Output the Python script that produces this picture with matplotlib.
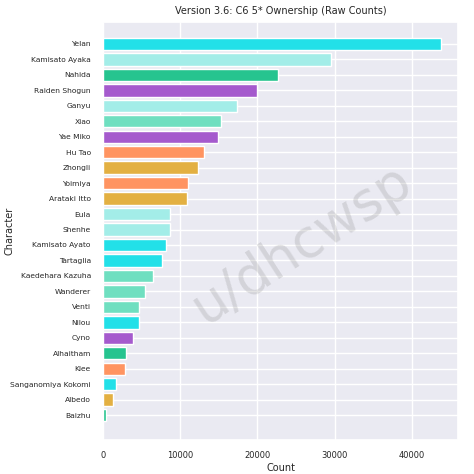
import matplotlib
matplotlib.use("Agg")
import matplotlib.pyplot as plt
import seaborn as sns

characters = ["Yelan", "Kamisato Ayaka", "Nahida", "Raiden Shogun", "Ganyu", "Xiao",
              "Yae Miko", "Hu Tao", "Zhongli", "Yoimiya", "Arataki Itto", "Eula",
              "Shenhe", "Kamisato Ayato", "Tartaglia", "Kaedehara Kazuha", "Wanderer",
              "Venti", "Nilou", "Cyno", "Alhaitham", "Klee", "Sanganomiya Kokomi",
              "Albedo", "Baizhu"]
counts = [43800, 29500, 22600, 20000, 17400, 15300, 14900, 13100, 12300, 11000,
          10900, 8600, 8600, 8100, 7600, 6500, 5400, 4600, 4600, 3900, 2900, 2800,
          1600, 1200, 400]
elements = ["hydro", "cryo", "dendro", "electro", "cryo", "anemo", "electro", "pyro",
            "geo", "pyro", "geo", "cryo", "cryo", "hydro", "hydro", "anemo", "anemo",
            "anemo", "hydro", "electro", "dendro", "pyro", "hydro", "geo", "dendro"]
palette = {"hydro": "#22e0e8", "cryo": "#a3ede8", "dendro": "#26c48f",
           "electro": "#a55acd", "anemo": "#6fdfc0", "pyro": "#ff9461", "geo": "#e3b042"}

sns.set_theme(style="darkgrid")
fig, ax = plt.subplots(figsize=(4.74, 4.74), dpi=100)
ax.barh(characters, counts, color=[palette[e] for e in elements])
ax.set_ylim(25.6, -1.4)
ax.set_xlim(0, 46000)
ax.set_title("Version 3.6: C6 5* Ownership (Raw Counts)", fontsize=7)
ax.set_xlabel("Count", fontsize=7, labelpad=2)
ax.set_ylabel("Character", fontsize=7)
ax.yaxis.set_label_coords(-0.25, 0.5)
ax.tick_params(axis="y", labelsize=5.4, pad=3)
ax.tick_params(axis="x", labelsize=6, pad=2)
ax.text(0.56, 0.47, "u/dhcwsp", transform=ax.transAxes, fontsize=38, color="gray",
        alpha=0.22, rotation=33, ha="center", va="center")
fig.subplots_adjust(left=0.218, right=0.966, top=0.953, bottom=0.072)
plt.savefig("out.png", dpi=100)
